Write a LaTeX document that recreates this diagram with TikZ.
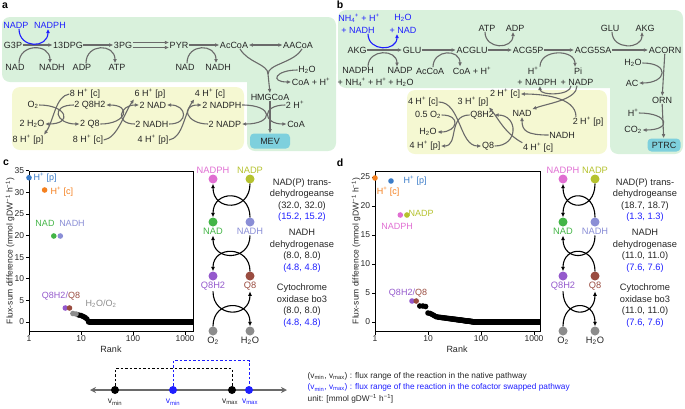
\documentclass[tikz,border=0pt]{standalone}
\usepackage{fontspec}
\setmainfont{Liberation Sans}
\usetikzlibrary{arrows.meta}
\definecolor{gbox}{HTML}{D9F1DC}
\definecolor{ybox}{HTML}{F5F8D2}
\definecolor{tbox}{HTML}{7ED0DD}
\definecolor{arr}{HTML}{6A6A6A}
\definecolor{txt}{HTML}{262626}
\definecolor{bl}{HTML}{1F1FFF}
\definecolor{cpk}{HTML}{E06ED2}
\definecolor{cyg}{HTML}{B5C22E}
\definecolor{cgr}{HTML}{43B546}
\definecolor{clv}{HTML}{8A8ED6}
\definecolor{cpu}{HTML}{9459CC}
\definecolor{cbr}{HTML}{9A4C40}
\definecolor{cgy}{HTML}{8C8C8C}
\definecolor{chp}{HTML}{3B7CC8}
\definecolor{chc}{HTML}{F4801F}
\newcommand{\Hp}{H\textsuperscript{+}}
\newcommand{\Hw}{H\textsubscript{2}O}
\newcommand{\Ox}{O\textsubscript{2}}
\newcommand{\NHf}{NH\textsubscript{4}\kern-0.5pt\textsuperscript{+}}
\newcommand{\cofdiag}[8]{%
  \node[dot, fill=cpk] (#1a) at (#2,179) {};
  \node[dot, fill=cyg] (#1b) at (#3,179) {};
  \node[dot, fill=cgr] (#1c) at (#2,222) {};
  \node[dot, fill=clv] (#1d) at (#3,222) {};
  \node[dot, fill=cpu] (#1e) at (#2,276) {};
  \node[dot, fill=cbr] (#1f) at (#3,276) {};
  \node[dot, fill=cgy] (#1g) at (#2,331) {};
  \node[dot, fill=cgy] (#1h) at (#3,331) {};
  \node[dlab, text=cpk, anchor=south] (#1la) at (#1a.north) {NADPH};
  \node[dlab, text=cyg, anchor=south] (#1lb) at (#1b.north) {NADP};
  \node[dlab, text=cgr, anchor=north] (#1lc) at (#1c.south) {NAD};
  \node[dlab, text=clv, anchor=north] (#1ld) at (#1d.south) {NADH};
  \node[dlab, text=cpu, anchor=north] (#1le) at (#1e.south) {Q8H2};
  \node[dlab, text=cbr, anchor=north] (#1lf) at (#1f.south) {Q8};
  \node[dlab, anchor=north] (#1lg) at (#1g.south) {\Ox};
  \node[dlab, anchor=north] (#1lh) at (#1h.south) {\Hw};
  \draw[ca] (#1b.south) .. controls +(0,28) and +(0,28) .. (#1a.south);
  \draw[ca] (#1d.north) .. controls +(0,-28) and +(0,-28) .. (#1c.north);
  \draw[ca] (#1ld.south) .. controls +(0,26) and +(0,26) .. (#1lc.south);
  \draw[ca] (#1f.north) .. controls +(0,-26) and +(0,-26) .. (#1e.north);
  \draw[ca] (#1le.south) .. controls +(0,27) and +(0,27) .. (#1lf.south);
  \draw[ca] (#1g.north) .. controls +(0,-27) and +(0,-27) .. (#1h.north);
  \node[coltxt] (#1t1) at (#4,200) {NAD(P) trans-\\dehydrogeanse\\#5\\\textcolor{bl}{#6}};
  \node[coltxt] (#1t2) at (#4,251) {NADH\\dehydrogenase\\#7\\\textcolor{bl}{#8}};
  \node[coltxt] (#1t3) at (#4,305.5) {Cytochrome\\oxidase bo3\\#7\\\textcolor{bl}{#8}};
}
\begin{document}
\begin{tikzpicture}[x=1pt,y=-1pt,
  every node/.style={inner sep=0.5pt, text=txt},
  font=\fontsize{9}{10}\selectfont,
  rx/.style={draw=arr, line width=1.1pt, -{Latex[length=4.2pt,width=3.8pt]}},
  rl/.style={draw=arr, line width=1.1pt},
  rb/.style={draw=bl, line width=1.1pt, -{Latex[length=4.2pt,width=3.8pt]}},
  ca/.style={draw=black, line width=1.1pt, -{Latex[length=4.5pt,width=4pt]}},
  dot/.style={circle, inner sep=0pt, minimum size=9pt},
  pt/.style={circle, inner sep=0pt, minimum size=5.6pt},
  dlab/.style={inner sep=1pt, font=\fontsize{9.3}{10}\selectfont},
  coltxt/.style={align=center, font=\fontsize{9.3}{11.5}\selectfont},
  tk/.style={inner sep=1pt, font=\fontsize{8.5}{9}\selectfont},
  plab/.style={font=\bfseries\fontsize{10.5}{11}\selectfont, text=black},
]
\useasboundingbox (0,0) rectangle (685,408);
%================ panel a
\node[plab] (la) at (5,6) {a};
\fill[gbox, rounded corners=8pt] (2,17) rectangle (336,82);
\fill[gbox, rounded corners=8pt] (247,55) rectangle (336,151);
\fill[ybox, rounded corners=8pt] (12,87) rectangle (244,150);
\node[text=bl] (aNADP) at (16,25) {NADP};
\node[text=bl] (aNADPH) at (50,25) {NADPH};
\node (aG3P) at (13,45) {G3P};
\node (a13) at (68,45) {13DPG};
\node (a3PG) at (123,45) {3PG};
\node (aPYR) at (179,45) {PYR};
\node (aAc) at (234,45) {AcCoA};
\node (aAAc) at (298,45) {AACoA};
\node (aNAD1) at (15,67) {NAD};
\node (aNADH1) at (52,67) {NADH};
\node (aADP) at (82,67) {ADP};
\node (aATP) at (117,67) {ATP};
\node (aNAD2) at (185,67) {NAD};
\node (aNADH2) at (218,67) {NADH};
\node (aH2O) at (307,70) {\Hw};
\node (aCoAH) at (311,82) {CoA + \Hp};
\node (aHMG) at (270,97) {HMGCoA};
\draw[rx] (aG3P) -- (a13);
\draw[rx] (a13) -- (a3PG);
\draw[rx] ([yshift=2.5pt]a3PG.east) -- ([yshift=2.5pt]aPYR.west);
\draw[rx] ([yshift=-2.5pt]a3PG.east) -- ([yshift=-2.5pt]aPYR.west);
\draw[rx] (aPYR) -- (aAc);
\draw[rx, {Latex[length=4.2pt,width=3.8pt]}-{Latex[length=4.2pt,width=3.8pt]}] (aAc) -- (aAAc);
\draw[rb] ([xshift=3pt]aNADP.south) .. controls +(0,20) and +(0,20) .. ([xshift=-2pt]aNADPH.south);
\draw[rx] ([xshift=4pt]aNAD1.north) .. controls +(0,-20) and +(0,-20) .. ([xshift=-2pt]aNADH1.north);
\draw[rx] ([xshift=4pt]aADP.north) .. controls +(0,-20) and +(0,-20) .. ([xshift=-2pt]aATP.north);
\draw[rx] ([xshift=2pt]aNAD2.north) .. controls +(0,-20) and +(0,-20) .. ([xshift=-2pt]aNADH2.north);
\coordinate (aJ) at (268,74);
\draw[rl] ([xshift=6pt]aAc.south) .. controls +(8,14) and +(0,-10) .. (aJ);
\draw[rl] ([xshift=4pt]aAAc.south) .. controls +(-8,14) and +(0,-10) .. (aJ);
\draw[rx] (aJ) -- (aHMG.north);
\draw[rx] (aH2O.west) .. controls +(-22,0) and +(-22,0) .. (aCoAH.west);
\node (aNADPH2) at (222,105) {2 NADPH};
\node (aNADP2) at (225,124) {2 NADP};
\node (a2H) at (295,105) {2 \Hp};
\node (aCoA) at (296,124) {CoA};
\node[fill=tbox, rounded corners=4pt, minimum width=40pt, minimum height=15pt] (aMEV) at (270,141) {MEV};
\draw[rx] (aHMG.south) -- (aMEV.north);
\draw[rx] (aNADPH2.east) .. controls +(32,0) and +(32,0) .. (aNADP2.east);
\draw[rx] (a2H.west) .. controls +(-24,0) and +(-24,0) .. (aCoA.west);
\node (aO2) at (33,105) {\Ox};
\node (aW2) at (32,124) {2 \Hw};
\node (aHp8) at (28,140) {8 \Hp{} [p]};
\node (aHc8) at (85,94) {8 \Hp{} [c]};
\node (aQH) at (90,105) {2 Q8H2};
\node (aQ) at (90,124) {2 Q8};
\node (aHc8b) at (88,140) {8 \Hp{} [c]};
\node (aHp6) at (150,94) {6 \Hp{} [p]};
\node (aNADy) at (153,105) {2 NAD};
\node (aNADHy) at (152,124) {2 NADH};
\node (aHp4) at (153,140) {4 \Hp{} [p]};
\node (aHc4) at (210,94) {4 \Hp{} [c]};
\draw[rx] (aO2.east) .. controls +(28,0) and +(28,0) .. (aW2.east);
\draw[rx] (aQH.west) .. controls +(-24,0) and +(-24,0) .. (aQ.west);
\draw[rx] (aHc8.west) .. controls +(-14,2) and +(10,-14) .. (aHp8.north east);
\draw[rx] (aQ.east) .. controls +(26,0) and +(26,0) .. (aQH.east);
\draw[rx] (aNADHy.west) .. controls +(-20,0) and +(-20,0) .. (aNADy.west);
\draw[rx] (aHc8b.east) .. controls +(14,-2) and +(-10,14) .. (aHp6.south west);
\draw[rx] (aNADHy.east) .. controls +(20,0) and +(20,0) .. (aNADy.east);
\draw[rx] (aNADP2.west) .. controls +(-22,0) and +(-22,0) .. (aNADPH2.west);
\draw[rx] (aHp4.east) .. controls +(14,-2) and +(-10,14) .. (aHc4.south west);
%================ panel b
\node[plab] (lb) at (340,5) {b};
\fill[gbox, rounded corners=8pt] (338,10) rectangle (683,88);
\fill[gbox, rounded corners=8pt] (610,50) rectangle (683,154);
\fill[ybox, rounded corners=8pt] (407,90) rectangle (607,154);
\node[text=bl] (bNH) at (359,18) {\NHf{} + \Hp};
\node[text=bl] (bNADHt) at (358,30) {+ NADH};
\node[text=bl] (bW) at (403,18) {\Hw};
\node[text=bl] (bNADt) at (403,30) {+ NAD};
\node (bAKG) at (357,50) {AKG};
\node (bGLU) at (412,50) {GLU};
\node (bACGLU) at (472,50) {ACGLU};
\node (bACG5P) at (528,50) {ACG5P};
\node (bACG5SA) at (593,50) {ACG5SA};
\node (bACORN) at (665,50) {ACORN};
\node (bATP) at (487,28) {ATP};
\node (bADP) at (515,28) {ADP};
\node (bGLU2) at (610,28) {GLU};
\node (bAKG2) at (645,28) {AKG};
\node (bNADPH) at (358,70.5) {NADPH};
\node (bNADP) at (400,70.5) {NADP};
\node (bAcCoA) at (430,71) {AcCoA};
\node (bCoAH) at (472,71) {CoA + \Hp};
\node (bH) at (533,71) {\Hp};
\node (bPi) at (578,71) {Pi};
\node (bNHb) at (362,82.5) {+ \NHf{} + \Hp};
\node (bWb) at (401,82.5) {+ \Hw};
\node (bNADPHb) at (537,82) {+ NADPH};
\node (bNADPb) at (577,82) {+ NADP};
\node (bW2) at (633,63) {\Hw};
\node (bAC) at (632,83) {AC};
\node (bORN) at (662,100) {ORN};
\node (bH2) at (633,113) {\Hp};
\node (bCO2) at (633,130) {CO\textsubscript{2}};
\node[fill=tbox, rounded corners=4pt, minimum width=33pt, minimum height=13pt] (bPTRC) at (664,145) {PTRC};
\draw[rx] (bAKG) -- (bGLU);
\draw[rb] ([xshift=10pt]bNADHt.south) .. controls +(0,18) and +(0,18) .. ([xshift=-6pt]bNADt.south);
\draw[rx] ([xshift=10pt]bNADPH.north) .. controls +(0,-18) and +(0,-18) .. ([xshift=-3pt]bNADP.north);
\draw[rx] (bGLU) -- (bACGLU);
\draw[rx] ([xshift=3pt]bAcCoA.north) .. controls +(0,-18) and +(0,-18) .. ([xshift=-12pt]bCoAH.north);
\draw[rx] (bACGLU) -- (bACG5P);
\draw[rx] ([xshift=-2pt]bATP.south) .. controls +(0,18) and +(0,18) .. ([xshift=-2pt]bADP.south);
\draw[rx] (bACG5P) -- (bACG5SA);
\draw[rx] ([xshift=7pt]bH.north) .. controls +(0,-18) and +(0,-18) .. ([xshift=-3pt]bPi.north);
\draw[rx] (bACG5SA) -- (bACORN);
\draw[rx] ([xshift=2pt]bGLU2.south) .. controls +(0,18) and +(0,18) .. ([xshift=-3pt]bAKG2.south);
\draw[rx] (bACORN) -- (bORN);
\draw[rx] (bW2.east) .. controls +(28,0) and +(28,0) .. (bAC.east);
\draw[rx] (bORN) -- (bPTRC);
\draw[rx] (bH2.east) .. controls +(30,0) and +(30,0) .. (bCO2.east);
\node (bH2c) at (505,94) {2 \Hp{} [c]};
\node (bH4c) at (423,102) {4 \Hp{} [c]};
\node (bH3p) at (473,102) {3 \Hp{} [p]};
\node (bO2) at (428,115) {0.5 \Ox};
\node (bQH) at (482,115) {Q8H2};
\node (bNADy) at (522,113) {NAD};
\node (bH2p) at (588,122) {2 \Hp{} [p]};
\node (bW3) at (428,132) {\Hw};
\node (bNADHy) at (562,135) {NADH};
\node (bH4p) at (425,146) {4 \Hp{} [p]};
\node (bQ) at (488,146) {Q8};
\node (bH4c2) at (538,148) {4 \Hp{} [c]};
\draw[rx] (bO2.east) .. controls +(20,0) and +(20,0) .. (bW3.east);
\draw[rx] (bH4c.east) .. controls +(22,0) and +(-22,0) .. (bQ.west);
\draw[rx] (bQH.west) .. controls +(-22,0) and +(18,0) .. (bH4p.east);
\draw[rx] (bQ.east) .. controls +(24,0) and +(24,0) .. (bQH.east);
\draw[rx] (bNADHy.west) .. controls +(-22,0) and +(0,14) .. (bNADy.south);
\draw[rx] (bH4c2.north west) .. controls +(-18,-10) and +(10,12) .. (bH3p.south east);
\draw[rx] (bNADPb.south) .. controls +(0,14) and +(16,-6) .. (bNADy.north east);
\draw[rx] ([xshift=-12pt]bH2p.north) .. controls +(0,-20) and +(20,0) .. (bH2c.east);
\draw[rx] ([xshift=-6pt]bNADPb.south) .. controls +(0,10) and +(0,10) .. ([xshift=3pt]bNADPHb.south);
%================ panel c
\node[plab] (lc) at (6,163) {c};
\draw[line width=0.9pt] (29,171) rectangle (193,331);
\foreach \v in {0,5,...,35} {\draw[line width=0.8pt] (29,{322-4.32*\v}) -- ++(-3.5,0) node[left, tk] (cy\v) {\v};}
\foreach \r/\l in {0/1,1/10,2/100,3/1000} {\draw[line width=0.8pt] ({29+52*\r},331) -- ++(0,3.5) node[below, tk] (cx\r) {\l};}
\node (cRank) at (111,349) {Rank};
\node[rotate=90, tk] (cYl) at (10,251) {Flux-sum difference (mmol gDW\textsuperscript{−1} h\textsuperscript{−1})};
\coordinate (cz0) at (88.6,322);
\coordinate (cz1) at (192.5,322);
\draw[line width=5.6pt] (cz0) -- (cz1);
\foreach \x/\y [count=\i] in {78.6/315,81/315.5,83.2/316.5,85.1/317.5,86.9/319,88.6/322} {\node[pt, fill=black] (cb\i) at (\x,\y) {};}
\node[pt, fill=cgy] (cg1) at (72.9,313.5) {};
\node[pt, fill=cgy] (cg2) at (76,314) {};
\node[pt, fill=cpu] (cp5) at (65.3,308) {};
\node[pt, fill=cbr] (cp6) at (69.5,308) {};
\node[pt, fill=cgr] (cp3) at (53.8,236) {};
\node[pt, fill=clv] (cp4) at (60.3,236) {};
\node[pt, fill=chc] (cp2) at (44.6,190) {};
\node[pt, fill=chp] (cp1) at (29,177.7) {};
\node[text=chp, anchor=west] (cl1) at (33,178) {\Hp{} [p]};
\node[text=chc, anchor=west] (cl2) at (50,192) {\Hp{} [c]};
\node[text=cgr] (cl3) at (45,223) {NAD};
\node[text=clv] (cl4) at (72,223) {NADH};
\node (cl5) at (61,296) {\textcolor{cpu}{Q8H2/}\textcolor{cbr}{Q8}};
\node[text=cgy] (cl7) at (101,304) {\Hw/\Ox};
\cofdiag{c}{213}{250}{302}{(32.0, 32.0)}{(15.2, 15.2)}{(8.0, 8.0)}{(4.8, 4.8)}
%================ panel d
\node[plab] (ld) at (340,163) {d};
\draw[line width=0.9pt] (375,171) rectangle (540,331);
\foreach \v in {0,5,...,25} {\draw[line width=0.8pt] (375,{322-5.8*\v}) -- ++(-3.5,0) node[left, tk] (dy\v) {\v};}
\foreach \r/\l in {0/1,1/10,2/100,3/1000} {\draw[line width=0.8pt] ({375+53*\r},331) -- ++(0,3.5) node[below, tk] (dx\r) {\l};}
\node (dRank) at (457,349) {Rank};
\node[rotate=90, tk] (dYl) at (356,251) {Flux-sum difference (mmol gDW\textsuperscript{−1} h\textsuperscript{−1})};
\coordinate (dz0) at (472.8,322);
\coordinate (dz1) at (539.5,322);
\draw[line width=5.6pt] (dz0) -- (dz1);
\foreach \r in {16,...,72} {\pgfmathsetmacro\xx{375+53*ln(\r)/ln(10)}\pgfmathsetmacro\yy{317+4.8*ln(\r/15)/ln(72/15)}\fill (\xx,\yy) circle (2.8pt);}
\foreach \x/\y [count=\i] in {419.8/306,422.9/306,425.6/306.5,428/313,430.2/313.5,432.2/314.5,434/315.5,435.7/316.5,437.3/317} {\node[pt, fill=black] (db\i) at (\x,\y) {};}
\node[pt, fill=cpu] (dp5) at (412,301) {};
\node[pt, fill=cbr] (dp6) at (416.2,301) {};
\node[pt, fill=cpk] (dp3) at (400.3,215) {};
\node[pt, fill=cyg] (dp4) at (406.9,215) {};
\node[pt, fill=chp] (dp2) at (391,181) {};
\node[pt, fill=chc] (dp1) at (375,178) {};
\node[text=chp] (dl1) at (415,181) {\Hp{} [p]};
\node[text=chc] (dl2) at (388,192) {\Hp{} [c]};
\node[text=cyg] (dl4) at (421,213) {NADP};
\node[text=cpk] (dl3) at (397,226) {NADPH};
\node (dl5) at (408,293) {\textcolor{cpu}{Q8H2/}\textcolor{cbr}{Q8}};
\cofdiag{d}{563}{595}{645}{(18.7, 18.7)}{(1.3, 1.3)}{(11.0, 11.0)}{(7.6, 7.6)}
%================ legend
\coordinate (nlL) at (90,390);
\coordinate (nlR) at (287,390);
\draw[draw=arr, line width=1.6pt, {Stealth[length=6pt,width=6pt]}-{Stealth[length=6pt,width=6pt]}] (nlL) -- (nlR);
\node[circle, fill=black, inner sep=0pt, minimum size=8pt] (v1) at (115,390) {};
\node[circle, fill=bl, inner sep=0pt, minimum size=8pt] (v2) at (173,390) {};
\node[circle, fill=black, inner sep=0pt, minimum size=8pt] (v3) at (232,390) {};
\node[circle, fill=bl, inner sep=0pt, minimum size=8pt] (v4) at (249,390) {};
\draw[dashed, dash pattern=on 2.5pt off 2pt, line width=0.7pt] (v1.north) -- ++(0,-17) -| (v3.north);
\draw[dashed, dash pattern=on 2.5pt off 2pt, line width=0.7pt, bl] (v2.north) -- ++(0,-25) -| (v4.north);
\node[tk] (vl1) at (115,402) {v\textsubscript{min}};
\node[tk, text=bl] (vl2) at (173,402) {v\textsubscript{min}};
\node[tk] (vl3) at (230,402) {v\textsubscript{max}};
\node[tk, text=bl] (vl4) at (250,402) {v\textsubscript{max}};
\node[anchor=west, font=\fontsize{8.3}{9}\selectfont] (lg1) at (307,376) {(v\textsubscript{min}, v\textsubscript{max}) : flux range of the reaction in the native pathway};
\node[anchor=west, font=\fontsize{8.3}{9}\selectfont, text=bl] (lg2) at (307,387.5) {(v\textsubscript{min}, v\textsubscript{max}) : flux range of the reaction in the cofactor swapped pathway};
\node[anchor=west, font=\fontsize{8.3}{9}\selectfont] (lg3) at (307,399) {unit: [mmol gDW\textsuperscript{−1} h\textsuperscript{−1}]};
\end{tikzpicture}
\end{document}
